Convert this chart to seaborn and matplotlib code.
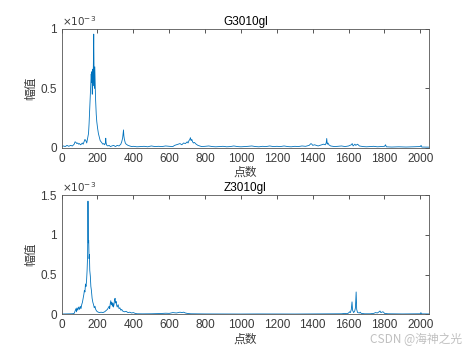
import numpy as np
import pandas as pd
import matplotlib
matplotlib.use("Agg")
import matplotlib.pyplot as plt
import seaborn as sns

# G3010gl spectrum, amplitude in units of 1e-3
g_idx = [0, 10, 20, 30, 40, 50, 60, 70, 75, 80, 85, 90, 95, 100, 105, 110, 115, 120, 125, 130,
         135, 140, 145, 150, 153, 156, 159, 162, 165, 167, 169, 171, 173, 175, 177, 179, 181, 183,
         185, 187, 189, 191, 193, 196, 200, 205, 210, 215, 220, 225, 230, 235, 240, 244, 246, 248,
         252, 258, 265, 272, 280, 290, 300, 310, 320, 330, 335, 340, 343, 345, 347, 350, 355, 360,
         370, 380, 390, 400, 420, 440, 460, 480, 500, 520, 540, 560, 580, 600, 620, 630, 640, 650,
         660, 670, 680, 690, 700, 705, 710, 715, 718, 722, 726, 730, 735, 740, 750, 760, 770, 780,
         800, 820, 840, 860, 880, 900, 920, 940, 960, 980, 1000, 1020, 1040, 1060, 1080, 1100,
         1120, 1140, 1160, 1180, 1200, 1220, 1240, 1260, 1280, 1300, 1320, 1340, 1360, 1380, 1390,
         1395, 1400, 1410, 1420, 1430, 1440, 1450, 1460, 1470, 1475, 1478, 1481, 1485, 1490, 1500,
         1520, 1540, 1560, 1580, 1600, 1615, 1620, 1625, 1635, 1640, 1650, 1660, 1680, 1700, 1720,
         1740, 1760, 1780, 1800, 1806, 1810, 1840, 1880, 1920, 1960, 2000, 2004, 2008, 2048]
g_amp = [0.01, 0.015, 0.01, 0.02, 0.012, 0.02, 0.015, 0.03, 0.05, 0.045, 0.035, 0.04, 0.03, 0.035,
         0.025, 0.03, 0.04, 0.03, 0.05, 0.07, 0.06, 0.04, 0.08, 0.12, 0.2, 0.3, 0.38, 0.5, 0.62,
         0.55, 0.64, 0.45, 0.66, 0.52, 0.7, 0.955, 0.6, 0.5, 0.68, 0.55, 0.42, 0.35, 0.28, 0.22,
         0.17, 0.12, 0.09, 0.06, 0.05, 0.04, 0.03, 0.035, 0.025, 0.04, 0.08, 0.04, 0.02, 0.015,
         0.02, 0.01, 0.015, 0.02, 0.01, 0.02, 0.015, 0.03, 0.05, 0.08, 0.12, 0.15, 0.1, 0.07, 0.04,
         0.03, 0.02, 0.015, 0.01, 0.012, 0.008, 0.01, 0.012, 0.008, 0.015, 0.01, 0.012, 0.01, 0.015,
         0.012, 0.01, 0.02, 0.025, 0.03, 0.035, 0.025, 0.04, 0.035, 0.05, 0.04, 0.06, 0.07, 0.085,
         0.06, 0.07, 0.05, 0.04, 0.045, 0.03, 0.02, 0.015, 0.01, 0.012, 0.015, 0.01, 0.008, 0.01,
         0.012, 0.008, 0.01, 0.015, 0.01, 0.008, 0.01, 0.012, 0.015, 0.01, 0.008, 0.012, 0.01,
         0.015, 0.01, 0.012, 0.01, 0.015, 0.01, 0.008, 0.012, 0.01, 0.015, 0.012, 0.02, 0.035,
         0.03, 0.02, 0.025, 0.02, 0.015, 0.02, 0.025, 0.03, 0.025, 0.04, 0.078, 0.03, 0.04, 0.025,
         0.015, 0.01, 0.012, 0.015, 0.01, 0.015, 0.025, 0.035, 0.015, 0.03, 0.02, 0.03, 0.015,
         0.01, 0.008, 0.01, 0.012, 0.008, 0.01, 0.012, 0.025, 0.008, 0.006, 0.008, 0.006, 0.008,
         0.01, 0.02, 0.006, 0.005]

# Z3010gl spectrum, amplitude in units of 1e-3
z_idx = [0, 20, 40, 60, 70, 75, 80, 83, 86, 90, 95, 100, 104, 108, 112, 116, 120, 124, 127, 130,
         133, 136, 139, 142, 145, 147, 149, 151, 153, 155, 157, 160, 163, 166, 170, 174, 178, 182,
         186, 190, 195, 200, 210, 220, 230, 240, 245, 250, 255, 260, 265, 268, 271, 274, 277, 280,
         283, 286, 289, 292, 295, 298, 301, 304, 307, 310, 315, 320, 325, 330, 335, 340, 350, 360,
         370, 380, 390, 400, 410, 420, 450, 500, 550, 580, 600, 620, 640, 660, 670, 680, 690, 700,
         720, 800, 900, 1000, 1100, 1200, 1300, 1400, 1500, 1560, 1580, 1590, 1600, 1605, 1610,
         1615, 1619, 1622, 1628, 1634, 1638, 1642, 1645, 1650, 1660, 1665, 1670, 1690, 1720, 1740,
         1750, 1760, 1770, 1775, 1780, 1790, 1795, 1800, 1820, 1900, 2000, 2003, 2006, 2048]
z_amp = [0.002, 0.003, 0.004, 0.005, 0.01, 0.04, 0.07, 0.03, 0.08, 0.05, 0.09, 0.06, 0.1, 0.07,
         0.12, 0.15, 0.2, 0.25, 0.3, 0.28, 0.38, 0.35, 0.42, 0.55, 0.75, 1.425, 0.9, 0.93, 0.7,
         0.75, 0.55, 0.48, 0.35, 0.3, 0.2, 0.15, 0.12, 0.08, 0.1, 0.06, 0.04, 0.03, 0.02, 0.025,
         0.02, 0.03, 0.04, 0.05, 0.06, 0.08, 0.1, 0.07, 0.13, 0.17, 0.12, 0.15, 0.1, 0.14, 0.09,
         0.12, 0.18, 0.2, 0.14, 0.16, 0.11, 0.09, 0.12, 0.07, 0.08, 0.05, 0.06, 0.04, 0.03, 0.035,
         0.02, 0.025, 0.015, 0.02, 0.01, 0.005, 0.004, 0.005, 0.008, 0.012, 0.01, 0.02, 0.015,
         0.025, 0.02, 0.025, 0.015, 0.01, 0.005, 0.003, 0.002, 0.002, 0.003, 0.002, 0.002, 0.003,
         0.003, 0.005, 0.01, 0.006, 0.015, 0.03, 0.02, 0.06, 0.155, 0.05, 0.02, 0.04, 0.08, 0.28,
         0.06, 0.02, 0.015, 0.025, 0.01, 0.005, 0.005, 0.01, 0.02, 0.015, 0.03, 0.04, 0.02, 0.03,
         0.025, 0.01, 0.005, 0.003, 0.005, 0.02, 0.004, 0.003]

titles = ["G3010gl", "Z3010gl"]
y_limits = [1.0, 1.5]
y_ticks = [[0, 0.5, 1], [0, 0.5, 1, 1.5]]
x_ticks = list(range(0, 2001, 200))

sns.set_style("white")
plt.rcParams["font.family"] = ["Liberation Sans", "Noto Sans CJK SC"]
cjk = ["Noto Sans CJK SC", "Liberation Sans"]
gray = "#3a3a3a"

fig = plt.figure(figsize=(4.74, 3.55), dpi=100)
ax1 = fig.add_axes([0.13, 0.5838, 0.775, 0.3352])
ax2 = fig.add_axes([0.13, 0.115, 0.775, 0.3352])

series = [pd.DataFrame({"idx": g_idx, "amp": g_amp}),
          pd.DataFrame({"idx": z_idx, "amp": z_amp})]

for ax, df, title, ylim, yt in zip([ax1, ax2], series, titles, y_limits, y_ticks):
    sns.lineplot(data=df, x="idx", y="amp", ax=ax, color="#0072BD", linewidth=0.6)
    ax.set_xlim(0, 2048)
    ax.set_ylim(0, ylim)
    ax.set_xticks(x_ticks)
    ax.set_yticks(yt)
    ax.set_yticklabels([f"{v:g}" for v in yt])
    ax.tick_params(direction="in", length=3, width=0.6, colors=gray, labelsize=8.5,
                   top=True, right=True, labelcolor=gray)
    for s in ax.spines.values():
        s.set_color("#555555")
        s.set_linewidth(0.6)
    ax.set_title(title, fontsize=8.5, color="black", pad=3)
    ax.set_xlabel("点数", family=cjk, fontsize=8.5, color=gray, labelpad=1)
    ax.set_ylabel("幅值", family=cjk, fontsize=8.5, color=gray, labelpad=2)
    ax.text(0.0, 1.01, r"$\times10^{-3}$", transform=ax.transAxes, fontsize=7.5,
            color=gray, ha="left", va="bottom")

fig.text(0.975, 0.025, "CSDN @海神之光", family=cjk, fontsize=8.5, color="#c0c0c0",
         ha="right", va="bottom")

fig.savefig("out.png", dpi=100, facecolor="white")
